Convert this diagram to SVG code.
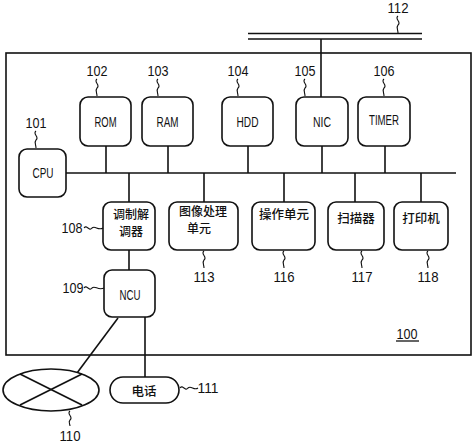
<svg xmlns="http://www.w3.org/2000/svg" width="474" height="443" viewBox="0 0 474 443">
<style>
.box{fill:#fff;stroke:#111;stroke-width:1.6}
.ln{fill:none;stroke:#111;stroke-width:1.6}
.sq{fill:none;stroke:#111;stroke-width:1.1}
.num{font-family:"Liberation Sans",Arial,sans-serif;font-size:15px;fill:#111;text-anchor:middle}
.lat{font-family:"Liberation Sans",Arial,sans-serif;font-size:14px;fill:#111;text-anchor:middle}
.cjk{font-family:"Noto Sans CJK SC","Liberation Sans",sans-serif;font-size:12.5px;font-weight:500;fill:#111;text-anchor:middle}
.cjk2{font-family:"Noto Sans CJK SC","Liberation Sans",sans-serif;font-size:12px;font-weight:500;fill:#111;text-anchor:middle}
</style>
<rect x="0" y="0" width="474" height="443" fill="#fff"/>
<g id="device-100">
<rect x="6" y="53" width="465" height="302" fill="none" stroke="#111" stroke-width="1.6"/>
<text class="num" x="407" y="339" textLength="21" lengthAdjust="spacingAndGlyphs">100</text>
<line x1="396" y1="341" x2="419" y2="341" stroke="#111" stroke-width="1.3"/>
</g>
<g id="connectors">
<line class="ln" x1="248" y1="33.5" x2="422" y2="33.5"/>
<line class="ln" x1="248" y1="39" x2="422" y2="39"/>
<line class="ln" x1="321" y1="39" x2="321" y2="97"/>
<line class="ln" x1="66" y1="173" x2="456" y2="173"/>
<line class="ln" x1="106" y1="146" x2="106" y2="173"/>
<line class="ln" x1="168" y1="146" x2="168" y2="173"/>
<line class="ln" x1="248" y1="146" x2="248" y2="173"/>
<line class="ln" x1="322" y1="146" x2="322" y2="173"/>
<line class="ln" x1="385" y1="146" x2="385" y2="173"/>
<line class="ln" x1="129" y1="173" x2="129" y2="202"/>
<line class="ln" x1="204" y1="173" x2="204" y2="202"/>
<line class="ln" x1="284" y1="173" x2="284" y2="202"/>
<line class="ln" x1="355" y1="173" x2="355" y2="202"/>
<line class="ln" x1="421" y1="173" x2="421" y2="202"/>
<line class="ln" x1="129" y1="250" x2="129" y2="270"/>
<line class="ln" x1="118" y1="318" x2="77" y2="373"/>
<line class="ln" x1="145" y1="317" x2="145" y2="377"/>
</g>
<g id="net-112">
<path class="sq" d="M398,16 c-4,3 4,6 0,9 c-2,2 0,5 0,8"/>
<text class="num" x="398" y="13" textLength="21" lengthAdjust="spacingAndGlyphs">112</text>
</g>
<g id="cpu-101">
<rect class="box" x="19" y="149" width="47" height="48" rx="8"/>
<text class="lat" x="43" y="178" textLength="21" lengthAdjust="spacingAndGlyphs">CPU</text>
<path class="sq" d="M36,131 c-4,3 4,6 0,9 c-2,2 0,5 0,8"/>
<text class="num" x="36" y="128" textLength="21" lengthAdjust="spacingAndGlyphs">101</text>
</g>
<g id="rom-102">
<rect class="box" x="80" y="97" width="51" height="49" rx="8"/>
<text class="lat" x="105.5" y="127" textLength="22" lengthAdjust="spacingAndGlyphs">ROM</text>
<path class="sq" d="M97,79 c-4,3 4,6 0,9 c-2,2 0,5 0,8"/>
<text class="num" x="97" y="76" textLength="21" lengthAdjust="spacingAndGlyphs">102</text>
</g>
<g id="ram-103">
<rect class="box" x="142" y="97" width="51" height="49" rx="8"/>
<text class="lat" x="167.5" y="127" textLength="22" lengthAdjust="spacingAndGlyphs">RAM</text>
<path class="sq" d="M158,79 c-4,3 4,6 0,9 c-2,2 0,5 0,8"/>
<text class="num" x="158" y="76" textLength="21" lengthAdjust="spacingAndGlyphs">103</text>
</g>
<g id="hdd-104">
<rect class="box" x="222" y="97" width="51" height="49" rx="8"/>
<text class="lat" x="247.5" y="127" textLength="22" lengthAdjust="spacingAndGlyphs">HDD</text>
<path class="sq" d="M238,79 c-4,3 4,6 0,9 c-2,2 0,5 0,8"/>
<text class="num" x="238" y="76" textLength="21" lengthAdjust="spacingAndGlyphs">104</text>
</g>
<g id="nic-105">
<rect class="box" x="296" y="97" width="52" height="49" rx="8"/>
<text class="lat" x="322" y="127" textLength="18" lengthAdjust="spacingAndGlyphs">NIC</text>
<path class="sq" d="M305,79 c-4,3 4,6 0,9 c-2,2 0,5 0,8"/>
<text class="num" x="305" y="76" textLength="21" lengthAdjust="spacingAndGlyphs">105</text>
</g>
<g id="timer-106">
<rect class="box" x="358" y="97" width="52" height="49" rx="8"/>
<text class="lat" x="384" y="125" textLength="30" lengthAdjust="spacingAndGlyphs">TIMER</text>
<path class="sq" d="M384,79 c-4,3 4,6 0,9 c-2,2 0,5 0,8"/>
<text class="num" x="384" y="76" textLength="21" lengthAdjust="spacingAndGlyphs">106</text>
</g>
<g id="modem-108">
<rect class="box" x="103" y="202" width="52" height="48" rx="8"/>
<text class="cjk2" x="131" y="219">调制解</text>
<text class="cjk2" x="131" y="236">调器</text>
<path class="sq" d="M84,228 c3,-4 5,4 8,0 c3,-3 6,3 11,0"/>
<text class="num" x="72" y="233" textLength="21" lengthAdjust="spacingAndGlyphs">108</text>
</g>
<g id="image-113">
<rect class="box" x="169" y="202" width="69" height="48" rx="8"/>
<text class="cjk2" x="203" y="216">图像处理</text>
<text class="cjk2" x="199" y="233">单元</text>
<path class="sq" d="M204,251 c-4,3 4,6 0,9 c-2,2 0,5 0,8"/>
<text class="num" x="204" y="282" textLength="21" lengthAdjust="spacingAndGlyphs">113</text>
</g>
<g id="op-116">
<rect class="box" x="252" y="202" width="63" height="48" rx="8"/>
<text class="cjk" x="284" y="219">操作单元</text>
<path class="sq" d="M284,251 c-4,3 4,6 0,9 c-2,2 0,5 0,8"/>
<text class="num" x="284" y="282" textLength="21" lengthAdjust="spacingAndGlyphs">116</text>
</g>
<g id="scan-117">
<rect class="box" x="328" y="202" width="56" height="48" rx="8"/>
<text class="cjk" x="356" y="223">扫描器</text>
<path class="sq" d="M362,251 c-4,3 4,6 0,9 c-2,2 0,5 0,8"/>
<text class="num" x="362" y="282" textLength="21" lengthAdjust="spacingAndGlyphs">117</text>
</g>
<g id="print-118">
<rect class="box" x="394" y="202" width="54" height="48" rx="8"/>
<text class="cjk" x="421" y="223">打印机</text>
<path class="sq" d="M428,251 c-4,3 4,6 0,9 c-2,2 0,5 0,8"/>
<text class="num" x="428" y="282" textLength="21" lengthAdjust="spacingAndGlyphs">118</text>
</g>
<g id="ncu-109">
<rect class="box" x="104" y="270" width="51" height="47" rx="8"/>
<text class="lat" x="130" y="300" textLength="21" lengthAdjust="spacingAndGlyphs">NCU</text>
<path class="sq" d="M84,288 c3,-4 5,4 8,0 c3,-3 6,3 12,0"/>
<text class="num" x="73" y="293" textLength="21" lengthAdjust="spacingAndGlyphs">109</text>
</g>
<g id="network-110">
<ellipse cx="51" cy="390" rx="48" ry="21" fill="#fff" stroke="#111" stroke-width="1.6"/>
<line class="ln" x1="20" y1="374" x2="82" y2="405"/>
<line class="ln" x1="20" y1="405" x2="82" y2="374"/>
<path class="sq" d="M70,411 c-4,3 4,6 0,9 c-2,2 0,4 0,6"/>
<text class="num" x="70" y="441" textLength="21" lengthAdjust="spacingAndGlyphs">110</text>
</g>
<g id="phone-111">
<rect class="box" x="110" y="377" width="69" height="26" rx="13"/>
<text class="cjk" x="144" y="396">电话</text>
<path class="sq" d="M180,388 c3,-4 5,4 8,0 c3,-3 6,3 10,0"/>
<text class="num" x="208" y="393" textLength="21" lengthAdjust="spacingAndGlyphs">111</text>
</g>
</svg>
